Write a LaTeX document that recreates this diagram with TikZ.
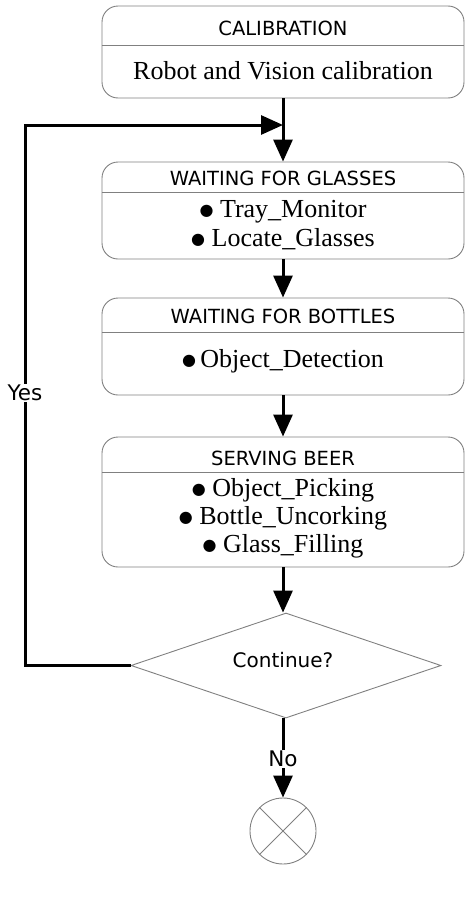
\documentclass[tikz,border=0pt]{standalone}
\usepackage{fontspec}
\setmainfont{Liberation Serif}
\setsansfont{DejaVu Sans}
\newfontfamily\symfont{DejaVu Sans}
\newcommand{\bul}{\raisebox{2.2pt}{\symfont\fontsize{16}{18}\selectfont ●}}
\usetikzlibrary{arrows.meta,shapes.geometric}
\begin{document}
\begin{tikzpicture}[x=1pt,y=-1pt,
  statebox/.style={draw=black!50, line width=0.9pt, rounded corners=16pt, minimum width=362pt, inner sep=0pt},
  divider/.style={draw=black!50, line width=0.9pt},
  head/.style={font=\sffamily\fontsize{19.5}{22}\selectfont, inner sep=0pt},
  body/.style={font=\fontsize{26}{29}\selectfont, inner sep=0pt, align=center},
  flow/.style={draw=black, line width=3pt, -{Triangle[length=22pt,width=19pt]}},
  lbl/.style={font=\sffamily\fontsize{21.5}{24}\selectfont, fill=white, inner sep=1pt},
  decision/.style={diamond, draw=black!50, line width=0.9pt, minimum width=310pt, minimum height=105pt, inner sep=0pt},
  dectext/.style={font=\sffamily\fontsize{20}{22}\selectfont, inner sep=0pt},
  endnode/.style={circle, draw=black!50, line width=0.9pt, minimum size=66pt, inner sep=0pt}
]
\useasboundingbox (0,0) rectangle (474,897);

% state boxes
\node[statebox, minimum height=92pt] (cal) at (283,52) {};
\draw[divider] (cal.west |- 0,45) -- (cal.east |- 0,45);
\node[head] (calh) at (283,28) {CALIBRATION};
\node[body] (calb) at (283,71) {Robot and Vision calibration};

\node[statebox, minimum height=97pt] (wfg) at (283,210.5) {};
\draw[divider] (wfg.west |- 0,192) -- (wfg.east |- 0,192);
\node[head] (wfgh) at (283,178) {WAITING FOR GLASSES};
\node[body] (wfgb1) at (283,212) {\bul\ Tray\_Monitor};
\node[body] (wfgb2) at (283,239) {\bul\ Locate\_Glasses};

\node[statebox, minimum height=97pt] (wfb) at (283,346.5) {};
\draw[divider] (wfb.west |- 0,332) -- (wfb.east |- 0,332);
\node[head] (wfbh) at (283,316) {WAITING FOR BOTTLES};
\node[body] (wfbb) at (283,361) {\bul\,Object\_Detection};

\node[statebox, minimum height=130pt] (srv) at (283,502) {};
\draw[divider] (srv.west |- 0,472) -- (srv.east |- 0,472);
\node[head] (srvh) at (283,458) {SERVING BEER};
\node[body] (srvb1) at (283,490) {\bul\ Object\_Picking};
\node[body] (srvb2) at (283,518) {\bul\ Bottle\_Uncorking};
\node[body] (srvb3) at (283,546) {\bul\ Glass\_Filling};

% decision and end
\node[decision] (dec) at (286,665.5) {};
\node[dectext] (dect) at (283,660) {Continue?};
\node[endnode] (fin) at (283,831) {};
\draw[draw=black!50, line width=0.9pt] (fin.north west) -- (fin.south east);
\draw[draw=black!50, line width=0.9pt] (fin.north east) -- (fin.south west);

% connectors
\coordinate (join) at (283,125);
\draw[flow] (cal.south) -- (wfg.north);
\draw[flow] (wfg.south) -- (wfb.north);
\draw[flow] (wfb.south) -- (srv.north);
\draw[flow] (srv.south) -- (srv.south |- dec.north);
\draw[flow] (dec.west) -- (25,665.5) -- (25,125) -- (join);
\draw[flow] (dec.south -| fin.north) -- (fin.north);
\node[lbl] (yes) at (25,393) {Yes};
\node[lbl] (no) at (283,759) {No};
\end{tikzpicture}
\end{document}
